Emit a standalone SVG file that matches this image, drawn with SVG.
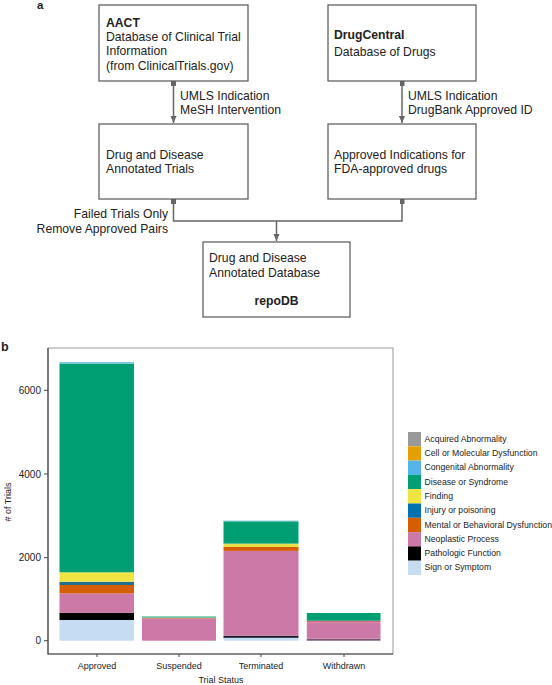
<svg xmlns="http://www.w3.org/2000/svg" width="552" height="685" viewBox="0 0 552 685">
<style>
text{font-family:"Liberation Sans",Arial,sans-serif;fill:#222}
.box{fill:#fff;stroke:#555;stroke-width:1.2}
.t{font-size:12.2px}
.b{font-weight:bold}
.con{fill:none;stroke:#666;stroke-width:1.5}
.tick{font-size:10px}
.ax{font-size:9px}
.lg{font-size:8.7px}
.tk{stroke:#444;stroke-width:1}
</style>
<defs>
<marker id="arr" viewBox="0 0 8 8" refX="8" refY="4" markerWidth="7" markerHeight="7" markerUnits="userSpaceOnUse" orient="auto"><path d="M0,0.5 L8,4 L0,7.5 z" fill="#666"/></marker>
<marker id="sq" viewBox="0 0 5 5" refX="0" refY="2.5" markerWidth="5" markerHeight="5" markerUnits="userSpaceOnUse" orient="auto"><rect x="0" y="0" width="5" height="5" fill="#666"/></marker>
</defs>

<text x="37" y="9" font-size="11.5px" class="b">a</text>

<g id="connectors">
<path class="con" d="M173.5,81 V123" marker-start="url(#sq)" marker-end="url(#arr)"/>
<path class="con" d="M402,81 V123" marker-start="url(#sq)" marker-end="url(#arr)"/>
<path class="con" d="M173.5,199 V221 H276.5 V241" marker-start="url(#sq)" marker-end="url(#arr)"/>
<path class="con" d="M402,199 V221 H276.5" marker-start="url(#sq)"/>
<text class="t" x="180" y="100">UMLS Indication</text>
<text class="t" x="180" y="114">MeSH Intervention</text>
<text class="t" x="408" y="100">UMLS Indication</text>
<text class="t" x="408" y="114">DrugBank Approved ID</text>
<text class="t" x="168" y="218" text-anchor="end">Failed Trials Only</text>
<text class="t" x="168" y="233" text-anchor="end">Remove Approved Pairs</text>
</g>

<g id="aact">
<rect class="box" x="99" y="5" width="149" height="76"/>
<text class="t b" x="106" y="27">AACT</text>
<text class="t" x="106" y="41">Database of Clinical Trial</text>
<text class="t" x="106" y="55">Information</text>
<text class="t" x="106" y="70">(from ClinicalTrials.gov)</text>
</g>

<g id="drugcentral">
<rect class="box" x="328" y="5" width="148" height="76"/>
<text class="t b" x="334" y="39">DrugCentral</text>
<text class="t" x="334" y="56">Database of Drugs</text>
</g>

<g id="trials">
<rect class="box" x="99" y="124" width="149" height="75"/>
<text class="t" x="106" y="159">Drug and Disease</text>
<text class="t" x="106" y="173">Annotated Trials</text>
</g>

<g id="approved">
<rect class="box" x="328" y="124" width="148" height="75"/>
<text class="t" x="334" y="159">Approved Indications for</text>
<text class="t" x="334" y="173">FDA-approved drugs</text>
</g>

<g id="repodb">
<rect class="box" x="203" y="242" width="147" height="75"/>
<text class="t" x="209" y="262">Drug and Disease</text>
<text class="t" x="209" y="277">Annotated Database</text>
<text class="t b" x="276.5" y="305" text-anchor="middle">repoDB</text>
</g>

<text x="1" y="351" font-size="12.5px" class="b">b</text>

<!-- chart frame -->
<rect x="48" y="348" width="345" height="306" fill="#fff" stroke="#999" stroke-width="1"/>
<path d="M48,348 V654 H393" fill="none" stroke="#444" stroke-width="1.2"/>

<!-- ticks -->
<g class="tk">
<line x1="44" y1="640.7" x2="48" y2="640.7"/>
<line x1="44" y1="557.7" x2="48" y2="557.7"/>
<line x1="44" y1="474" x2="48" y2="474"/>
<line x1="44" y1="390.3" x2="48" y2="390.3"/>
<line x1="97" y1="654" x2="97" y2="657"/>
<line x1="179" y1="654" x2="179" y2="657"/>
<line x1="261" y1="654" x2="261" y2="657"/>
<line x1="344" y1="654" x2="344" y2="657"/>
</g>
<text class="tick" x="41" y="644.2" text-anchor="end">0</text>
<text class="tick" x="41" y="561.2" text-anchor="end">2000</text>
<text class="tick" x="41" y="477.5" text-anchor="end">4000</text>
<text class="tick" x="41" y="393.8" text-anchor="end">6000</text>
<text class="ax" transform="translate(11,502) rotate(-90)" text-anchor="middle"># of Trials</text>
<text class="ax" x="97" y="669" text-anchor="middle">Approved</text>
<text class="ax" x="179" y="669" text-anchor="middle">Suspended</text>
<text class="ax" x="261" y="669" text-anchor="middle">Terminated</text>
<text class="ax" x="344" y="669" text-anchor="middle">Withdrawn</text>
<text class="ax" x="221" y="683" text-anchor="middle">Trial Status</text>

<!-- bars: Approved -->
<g>
<rect x="59.5" y="620" width="74.5" height="20.7" fill="#c6dcf2"/>
<rect x="59.5" y="612.7" width="74.5" height="7.3" fill="#000"/>
<rect x="59.5" y="593.3" width="74.5" height="19.4" fill="#cc79a7"/>
<rect x="59.5" y="585" width="74.5" height="8.3" fill="#d55e00"/>
<rect x="59.5" y="581.7" width="74.5" height="3.3" fill="#24708c"/>
<rect x="59.5" y="572.3" width="74.5" height="9.4" fill="#f0e442"/>
<rect x="59.5" y="363.5" width="74.5" height="208.8" fill="#009e73"/>
<rect x="59.5" y="362" width="74.5" height="1.5" fill="#7cc4e8"/>
</g>
<!-- Suspended -->
<g>
<rect x="142" y="619" width="74" height="21.7" fill="#cc79a7"/>
<rect x="142" y="617.7" width="74" height="1.3" fill="#d8907a"/>
<rect x="142" y="616.4" width="74" height="1.3" fill="#3fb58a"/>
</g>
<!-- Terminated -->
<g>
<rect x="223.5" y="637.8" width="75" height="2.9" fill="#c6dcf2"/>
<rect x="223.5" y="635.7" width="75" height="2.1" fill="#1a1a2a"/>
<rect x="223.5" y="550.9" width="75" height="84.8" fill="#cc79a7"/>
<rect x="223.5" y="547" width="75" height="3.9" fill="#d55e00"/>
<rect x="223.5" y="543.6" width="75" height="3.4" fill="#e8e04a"/>
<rect x="223.5" y="521.3" width="75" height="22.3" fill="#009e73"/>
<rect x="223.5" y="520.5" width="75" height="0.8" fill="#8fd0e0"/>
</g>
<!-- Withdrawn -->
<g>
<rect x="306.8" y="638.6" width="73.7" height="2.1" fill="#7a5570"/>
<rect x="306.8" y="622.3" width="73.7" height="16.3" fill="#cc79a7"/>
<rect x="306.8" y="620.7" width="73.7" height="1.6" fill="#d5636f"/>
<rect x="306.8" y="613" width="73.7" height="7.7" fill="#009e73"/>
</g>

<!-- legend -->
<g>
<rect x="408" y="432" width="13" height="14.3" fill="#999999"/>
<rect x="408" y="446.3" width="13" height="14.3" fill="#e69f00"/>
<rect x="408" y="460.6" width="13" height="14.3" fill="#56b4e9"/>
<rect x="408" y="474.9" width="13" height="14.3" fill="#009e73"/>
<rect x="408" y="489.2" width="13" height="14.3" fill="#f0e442"/>
<rect x="408" y="503.5" width="13" height="14.3" fill="#0072b2"/>
<rect x="408" y="517.8" width="13" height="14.3" fill="#d55e00"/>
<rect x="408" y="532.1" width="13" height="14.3" fill="#cc79a7"/>
<rect x="408" y="546.4" width="13" height="14.3" fill="#000000"/>
<rect x="408" y="560.7" width="13" height="14.3" fill="#c6dcf2"/>
<text class="lg" x="424.5" y="441.7">Acquired Abnormality</text>
<text class="lg" x="424.5" y="456">Cell or Molecular Dysfunction</text>
<text class="lg" x="424.5" y="470.3">Congenital Abnormality</text>
<text class="lg" x="424.5" y="484.6">Disease or Syndrome</text>
<text class="lg" x="424.5" y="498.9">Finding</text>
<text class="lg" x="424.5" y="513.2">Injury or poisoning</text>
<text class="lg" x="424.5" y="527.5">Mental or Behavioral Dysfunction</text>
<text class="lg" x="424.5" y="541.8">Neoplastic Process</text>
<text class="lg" x="424.5" y="556.1">Pathologic Function</text>
<text class="lg" x="424.5" y="570.4">Sign or Symptom</text>
</g>
</svg>
